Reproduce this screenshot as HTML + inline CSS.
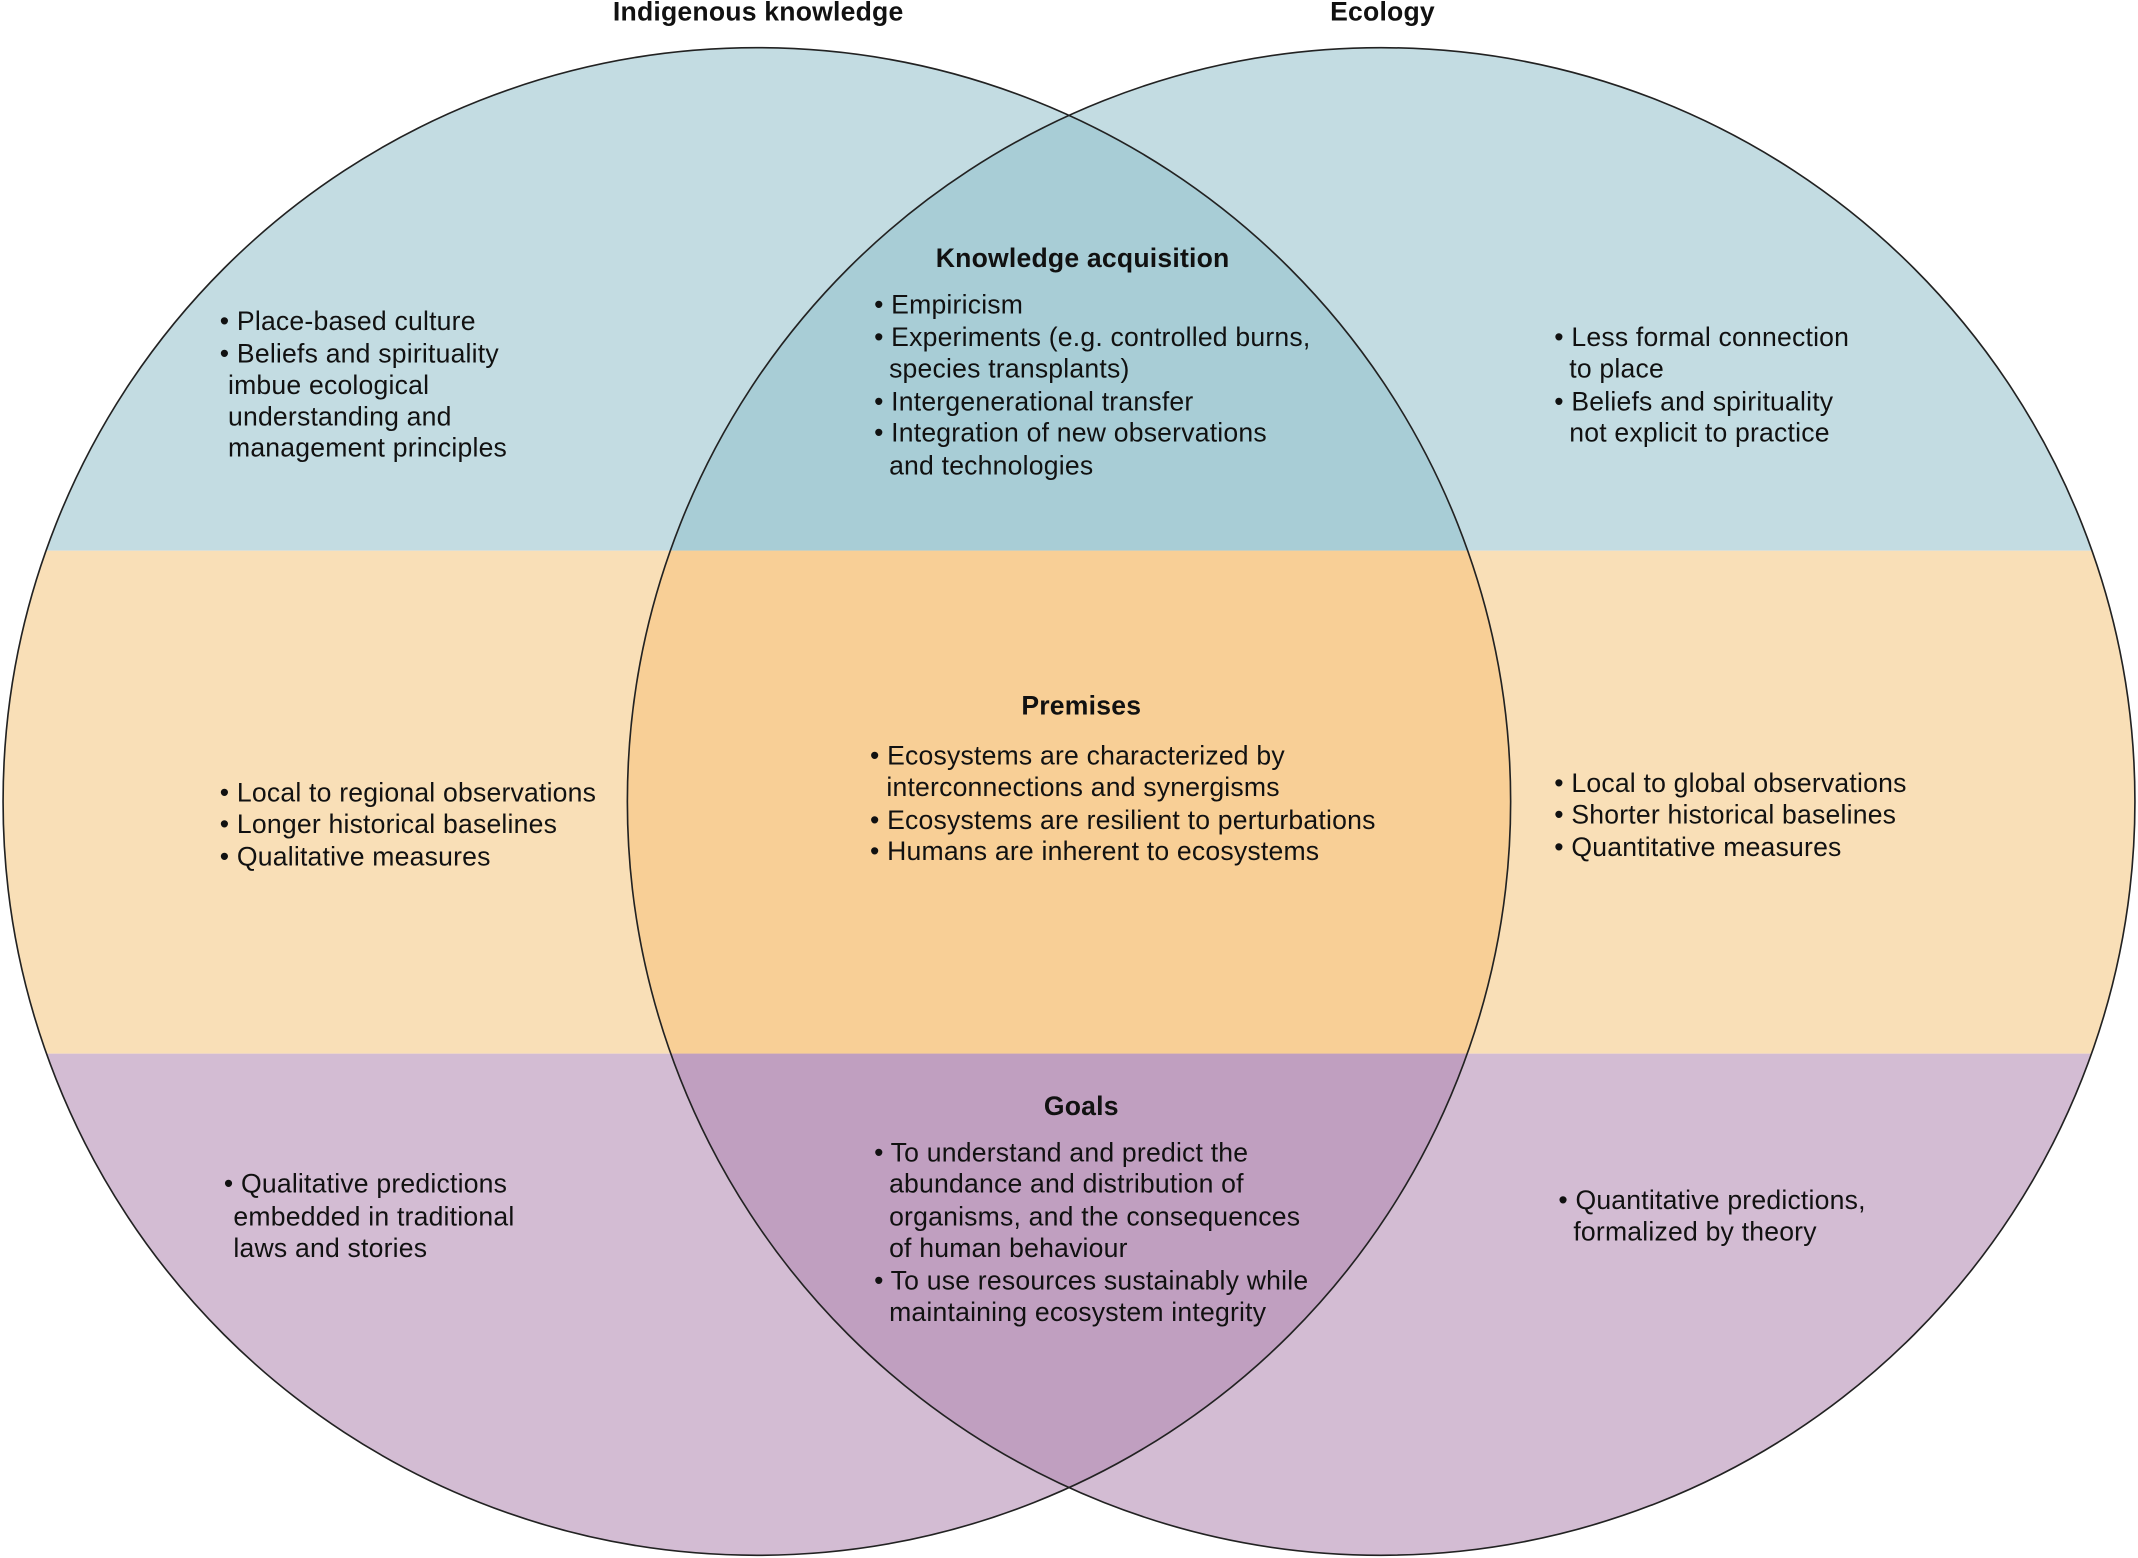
<!DOCTYPE html>
<html><head><meta charset="utf-8"><style>
html,body{margin:0;padding:0;background:#fff;}
svg{display:block;}
text{font-family:"Liberation Sans",Arial,sans-serif;font-size:19.5px;letter-spacing:0.15px;fill:#111;}
.b{font-weight:bold;}
</style></head><body>
<svg width="2138" height="1558" viewBox="0 0 1568 1143" xmlns="http://www.w3.org/2000/svg">
<defs>
<clipPath id="cL"><circle cx="555" cy="588" r="553"/></clipPath>
<clipPath id="cR"><circle cx="1013" cy="588" r="553"/></clipPath>
</defs>
<g clip-path="url(#cL)">
<rect x="0" y="0" width="1568" height="404" fill="#c3dce2"/>
<rect x="0" y="404" width="1568" height="369" fill="#f9dfb7"/>
<rect x="0" y="773" width="1568" height="400" fill="#d3bcd3"/>
</g>
<g clip-path="url(#cR)">
<rect x="0" y="0" width="1568" height="404" fill="#c3dce2"/>
<rect x="0" y="404" width="1568" height="369" fill="#f9dfb7"/>
<rect x="0" y="773" width="1568" height="400" fill="#d3bcd3"/>
</g>
<g clip-path="url(#cL)"><g clip-path="url(#cR)">
<rect x="0" y="0" width="1568" height="404" fill="#a8cdd6"/>
<rect x="0" y="404" width="1568" height="369" fill="#f8cf96"/>
<rect x="0" y="773" width="1568" height="400" fill="#c09fc0"/>
</g></g>
<circle cx="555" cy="588" r="553" fill="none" stroke="#222" stroke-width="1.2"/>
<circle cx="1013" cy="588" r="553" fill="none" stroke="#222" stroke-width="1.2"/>

<text class="b" x="556" y="15" text-anchor="middle">Indigenous knowledge</text>
<text class="b" x="1014" y="15" text-anchor="middle">Ecology</text>

<g>
<text x="161" y="242">• Place-based culture</text>
<text x="161" y="266">• Beliefs and spirituality</text>
<text x="167" y="289">imbue ecological</text>
<text x="167" y="312">understanding and</text>
<text x="167" y="335">management principles</text>
</g>
<g>
<text class="b" x="794" y="196" text-anchor="middle">Knowledge acquisition</text>
<text x="641" y="230">• Empiricism</text>
<text x="641" y="254">• Experiments (e.g. controlled burns,</text>
<text x="652" y="277">species transplants)</text>
<text x="641" y="301">• Intergenerational transfer</text>
<text x="641" y="324">• Integration of new observations</text>
<text x="652" y="348">and technologies</text>
</g>
<g>
<text x="1140" y="254">• Less formal connection</text>
<text x="1151" y="277">to place</text>
<text x="1140" y="301">• Beliefs and spirituality</text>
<text x="1151" y="324">not explicit to practice</text>
</g>
<g>
<text class="b" x="793" y="524" text-anchor="middle">Premises</text>
<text x="638" y="561">• Ecosystems are characterized by</text>
<text x="650" y="584">interconnections and synergisms</text>
<text x="638" y="608">• Ecosystems are resilient to perturbations</text>
<text x="638" y="631">• Humans are inherent to ecosystems</text>
</g>
<g>
<text x="161" y="588">• Local to regional observations</text>
<text x="161" y="611">• Longer historical baselines</text>
<text x="161" y="635">• Qualitative measures</text>
</g>
<g>
<text x="1140" y="581">• Local to global observations</text>
<text x="1140" y="604">• Shorter historical baselines</text>
<text x="1140" y="628">• Quantitative measures</text>
</g>
<g>
<text class="b" x="793" y="818" text-anchor="middle">Goals</text>
<text x="641" y="852">• To understand and predict the</text>
<text x="652" y="875">abundance and distribution of</text>
<text x="652" y="899">organisms, and the consequences</text>
<text x="652" y="922">of human behaviour</text>
<text x="641" y="946">• To use resources sustainably while</text>
<text x="652" y="969">maintaining ecosystem integrity</text>
</g>
<g>
<text x="164" y="875">• Qualitative predictions</text>
<text x="171" y="899">embedded in traditional</text>
<text x="171" y="922">laws and stories</text>
</g>
<g>
<text x="1143" y="887">• Quantitative predictions,</text>
<text x="1154" y="910">formalized by theory</text>
</g>
</svg>
</body></html>
